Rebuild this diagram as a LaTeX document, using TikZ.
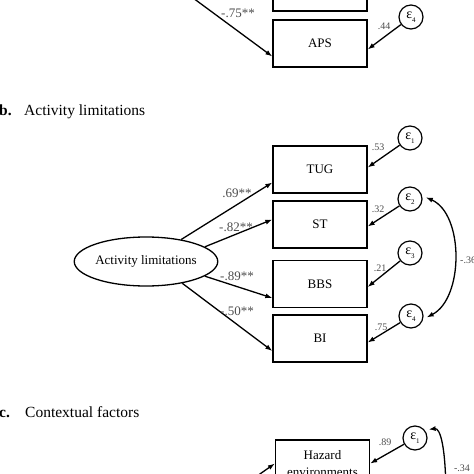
\documentclass[tikz,border=0pt]{standalone}
\usepackage{fontspec}
\setmainfont{Liberation Serif}
\usetikzlibrary{shapes.geometric,arrows.meta}

\newcommand{\epsl}[1]{ε\raisebox{-4pt}{\fontsize{7}{8}\selectfont #1}}

\tikzstyle{indicator} = [draw, rectangle, line width=1.3pt, minimum width=94pt, minimum height=47pt, inner sep=0pt, align=center, font=\fontsize{13}{17}\selectfont]
\tikzstyle{latent} = [draw, ellipse, line width=1.3pt, minimum width=138pt, minimum height=49pt, inner sep=0pt, font=\fontsize{13}{16}\selectfont]
\tikzstyle{err} = [draw, circle, line width=1.2pt, minimum size=24pt, inner sep=0pt, font=\fontsize{14}{16}\selectfont]
\tikzstyle{load} = [line width=1.3pt, -{Latex[length=7pt,width=5pt]}]
\tikzstyle{cov} = [line width=1.3pt, {Latex[length=7pt,width=5pt]}-{Latex[length=7pt,width=5pt]}]
\tikzstyle{coef} = [text=black!70, inner sep=0pt, font=\fontsize{13}{15}\selectfont]
\tikzstyle{resid} = [text=black!70, inner sep=0pt, font=\fontsize{10}{12}\selectfont]
\tikzstyle{heading} = [anchor=base west, inner sep=0pt, font=\fontsize{15.5}{18}\selectfont]

\begin{document}
\begin{tikzpicture}[x=1pt,y=-1pt]
\useasboundingbox (0,0) rectangle (474,474);
\clip (0,0) rectangle (474,474);

% a. (end of panel)
\node[indicator] (prev) at (320,-12.5) {};
\node[indicator] (aps) at (320,43.5) {APS};
\node[err] (ae4) at (411,17) {\epsl{4}};
\coordinate (afac) at (151,-33);
\draw[load] (afac) -- ([yshift=-13pt]aps.west);
\draw[load] (ae4) -- ([yshift=-6pt]aps.east);
\node[coef] (alab) at (238,13) {-.75**};
\node[resid] (alab4) at (384,26) {.44};

% b. Activity limitations
\node[heading] (hb) at (-1,115) {\textbf{b.}};
\node[heading] (hbt) at (24,115) {Activity limitations};
\node[latent] (al) at (146,261.5) {Activity limitations};
\node[indicator] (tug) at (320,169.5) {TUG};
\node[indicator] (st) at (320,224.5) {ST};
\node[indicator] (bbs) at (320,284) {BBS};
\node[indicator] (bi) at (320,338.5) {BI};
\node[err] (be1) at (410,138) {\epsl{1}};
\node[err] (be2) at (410,199) {\epsl{2}};
\node[err] (be3) at (410,253) {\epsl{3}};
\node[err] (be4) at (411,316) {\epsl{4}};
\draw[load] (al.32) -- ([yshift=-13pt]tug.west);
\draw[load] (al.14) -- ([yshift=5pt]st.west);
\draw[load] (al.-14) -- ([yshift=-14pt]bbs.west);
\draw[load] (al.-31) -- ([yshift=-12.5pt]bi.west);
\draw[load] (be1) -- ([yshift=2pt]tug.east);
\draw[load] (be2) -- ([yshift=-2pt]st.east);
\draw[load] (be3) -- ([yshift=-3pt]bbs.east);
\draw[load] (be4) -- ([yshift=-4pt]bi.east);
\draw[cov, shorten <=4pt, shorten >=4pt] (be2.15) .. controls (464,214) and (464,298) .. (be4.-15);
\node[coef] (blab1) at (237,193) {.69**};
\node[coef] (blab2) at (236,227) {-.82**};
\node[coef] (blab3) at (237,276) {-.89**};
\node[coef] (blab4) at (237,311) {-.50**};
\node[resid] (bres1) at (378,147) {.53};
\node[resid] (bres2) at (378,209) {.32};
\node[resid] (bres3) at (380,268) {.21};
\node[resid] (bres4) at (381,327) {.75};
\node[resid, anchor=west] (bcov) at (460,260) {-.36};

% c. Contextual factors
\node[heading] (hc) at (-1,417) {\textbf{c.}};
\node[heading] (hct) at (25,417) {Contextual factors};
\node[indicator] (hazard) at (322.5,463.5) {Hazard\\environments};
\node[err] (ce1) at (415,438) {\epsl{1}};
\coordinate (cfac) at (240,488);
\coordinate (cfree) at (446,500);
\draw[load] (cfac) -- (hazard.west);
\draw[load] (ce1) -- (hazard.east);
\draw[line width=1.3pt, {Latex[length=7pt,width=5pt]}-, shorten <=4pt] (ce1.40) .. controls (440,428) and (446,445) .. (cfree);
\node[resid] (cres1) at (385,442) {.89};
\node[resid] (ccov) at (462,468) {-.34};
\end{tikzpicture}
\end{document}
